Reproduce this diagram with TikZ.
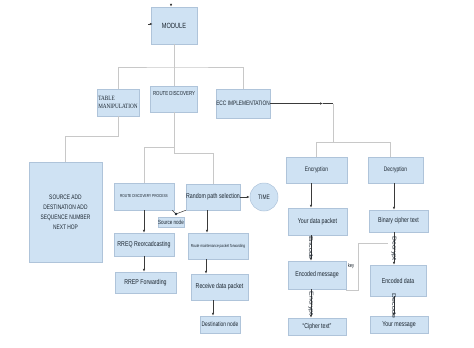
\documentclass[tikz,border=0pt]{standalone}
\usepackage{fontspec}
\setmainfont{Liberation Sans}[FakeStretch=0.75]
\newfontfamily\tabfont{Liberation Serif}[FakeStretch=0.8]
\usetikzlibrary{arrows.meta,positioning}

\begin{document}
\begin{tikzpicture}[x=1pt, y=-1pt, >={Latex[length=3pt,width=2.4pt]},
  box/.style={draw=boxline, fill=boxfill, line width=0.5pt, inner sep=0pt, align=center, text=ink},
  tree/.style={draw=treegray, line width=0.7pt},
  link/.style={draw=arrgray, line width=0.5pt},
  arr/.style={->, draw=arrgray, line width=0.5pt},
  onarr/.style={rotate=-90, text=ink, inner sep=0pt, font=\fontsize{5.5}{5.5}\selectfont}]
  \definecolor{ink}{HTML}{1A242E}
  \definecolor{boxfill}{HTML}{CFE2F3}
  \definecolor{boxline}{HTML}{AFC4DA}
  \definecolor{treegray}{HTML}{C8C8C8}
  \definecolor{arrgray}{HTML}{3A3A3A}
  \fill[white] (0,0) rectangle (474,348);
  \useasboundingbox (0,0) rectangle (474,348);
  % top of the tree
  \node[box, minimum width=46pt, minimum height=37pt, font=\fontsize{7.5}{8}\selectfont] (module) at (174,25.5) {MODULE};
  \node[box, minimum width=42pt, minimum height=27pt, align=left, font=\tabfont\fontsize{6.5}{8}\selectfont] (table) at (118,102.5) {TABLE\\MANIPULATION};
  \node[box, minimum width=47pt, text height=9pt, text depth=17pt, font=\fontsize{5.8}{6}\selectfont] (route) at (174,99) {ROUTE DISCOVERY};
  \node[box, minimum width=54pt, minimum height=29pt, font=\fontsize{6.4}{7}\selectfont] (ecc) at (243,103.5) {ECC IMPLEMENTATION};
  \node[box, minimum width=73pt, minimum height=100pt, font=\fontsize{6.5}{10}\selectfont] (source) at (65.5,212) {SOURCE ADD\\DESTINATION ADD\\SEQUENCE NUMBER\\NEXT HOP};
  % route discovery branch
  \node[box, minimum width=60pt, minimum height=27pt, font=\fontsize{4.3}{5}\selectfont] (rdp) at (144,196.5) {ROUTE DISCOVERY PROCESS};
  \node[box, minimum width=54pt, minimum height=26pt, font=\fontsize{7}{8}\selectfont] (rps) at (213,197) {Random path selection};
  \node[box, circle, minimum size=28pt, font=\fontsize{6.5}{7}\selectfont] (time) at (264,197) {TIME};
  \node[box, minimum width=24pt, minimum height=10pt, font=\fontsize{6}{6}\selectfont] (srcnode) at (171,222) {Source node};
  \node[box, minimum width=60pt, minimum height=23pt, font=\fontsize{7}{8}\selectfont] (rreq) at (144,244.5) {RREQ Reorcadcasting};
  \node[box, minimum width=61pt, minimum height=21pt, font=\fontsize{7}{8}\selectfont] (rrep) at (145.5,282.5) {RREP Forwarding};
  \node[box, minimum width=60pt, minimum height=26pt, font=\fontsize{4.3}{5}\selectfont] (rmpf) at (218,246) {Route maintenance packet forwarding};
  \node[box, minimum width=57pt, minimum height=26pt, font=\fontsize{7}{8}\selectfont] (rdpkt) at (219.5,287) {Receive data packet};
  \node[box, minimum width=40pt, minimum height=17pt, font=\fontsize{6.5}{7}\selectfont] (dest) at (220,324.5) {Destination node};
  % ecc branch
  \node[box, minimum width=61pt, minimum height=26pt, font=\fontsize{6.5}{7}\selectfont] (enc) at (316.5,170) {Encryption};
  \node[box, minimum width=55pt, minimum height=26pt, font=\fontsize{6.5}{7}\selectfont] (dec) at (395.5,170) {Decryption};
  \node[box, minimum width=59pt, minimum height=27pt, font=\fontsize{7}{8}\selectfont] (ydp) at (317.5,221.5) {Your data packet};
  \node[box, minimum width=59pt, minimum height=22pt, font=\fontsize{7}{8}\selectfont] (bct) at (398.5,221) {Binary cipher text};
  \node[box, minimum width=58pt, minimum height=28pt, font=\fontsize{7}{8}\selectfont] (em) at (317,275) {Encoded message};
  \node[box, minimum width=56pt, minimum height=31pt, font=\fontsize{7}{8}\selectfont] (ed) at (398,280.5) {Encoded data};
  \node[box, minimum width=58pt, minimum height=17pt, font=\fontsize{7}{8}\selectfont] (ct) at (317,326.5) {``Cipher text''};
  \node[box, minimum width=58pt, minimum height=17pt, font=\fontsize{7}{8}\selectfont] (ym) at (399,324.5) {Your message};
  \node[inner sep=0pt, text=ink, font=\fontsize{5.5}{6}\selectfont] (keylbl) at (351,266) {key};
  % tree lines
  \coordinate (hub) at (174,67);
  \draw[tree] (module.south) -- (hub);
  \draw[tree] (table.north) |- (hub) -| (ecc.north);
  \draw[tree] (hub) -- (route.north);
  \draw[tree] (table.south) -- ++(0,20) -| (source.north);
  \draw[tree] (route.south) -- ++(0,35) -| (rdp.north);
  \draw[tree] (route.south) -- ++(0,41) -| (rps.north);
  \coordinate (mtop) at (171,3.5);
  \coordinate (mleft) at (148,24);
  \draw[arr] (mtop) -- (mtop |- module.north);
  \draw[arr] (mleft) -- ([xshift=2pt]module.west |- mleft);
  % route discovery arrows
  \coordinate (jn) at (176,214);
  \draw[link] ([xshift=-2pt]rdp.south east) -- (jn) -- (rps.south west);
  \fill[ink] (jn) circle (1.4);
  \draw[arr] (rps.east) -- (time.west);
  \draw[arr] (rdp.south) -- (rreq.north);
  \draw[arr] (rreq.south) -- (rreq.south |- rrep.north);
  \draw[arr] ([xshift=-6pt]rps.south) -- ([xshift=-6pt]rps.south |- rmpf.north);
  \draw[arr] ([xshift=-12pt]rmpf.south) -- ([xshift=-12pt]rmpf.south |- rdpkt.north);
  \draw[arr] ([xshift=-6.5pt]rdpkt.south) -- ([xshift=-6.5pt]rdpkt.south |- dest.north);
  % ecc arrows
  \coordinate (eccknee) at (333,103.5);
  \coordinate (encsplit) at (333,142);
  \draw[arr] (ecc.east) -- ([xshift=-10pt]eccknee);
  \draw[link] ([xshift=-10pt]eccknee) -- (eccknee);
  \draw[tree] (eccknee) -- (encsplit);
  \draw[tree] (encsplit) -| (enc.north);
  \draw[tree] (encsplit) -| ([xshift=-5pt]dec.north);
  \draw[arr] ([xshift=-5.5pt]enc.south) -- ([xshift=-5.5pt]enc.south |- ydp.north);
  \draw[arr] ([xshift=-1.5pt]dec.south) -- ([xshift=-1.5pt]dec.south |- bct.north);
  \draw[arr] ([xshift=-6.5pt]ydp.south) -- node[onarr] {\scalebox{1.7}[1]{Encode}} ([xshift=-6.5pt]ydp.south |- em.north);
  \draw[arr] ([xshift=-6pt]em.south) -- node[onarr] {\scalebox{1.7}[1]{Encrypt}} ([xshift=-6pt]em.south |- ct.north);
  \draw[arr] ([xshift=-4.5pt]bct.south) -- node[onarr] {\scalebox{1.7}[1]{Decrypt}} ([xshift=-4.5pt]bct.south |- ed.north);
  \draw[arr] ([xshift=-4pt]ed.south) -- node[onarr] {\scalebox{1.7}[1]{Decode}} ([xshift=-4pt]ed.south |- ym.north);
  \coordinate (keyend) at (388,243);
  \draw[tree] ([yshift=-1pt]em.south east) -- ++(12,0) |- (keyend);
\end{tikzpicture}
\end{document}
